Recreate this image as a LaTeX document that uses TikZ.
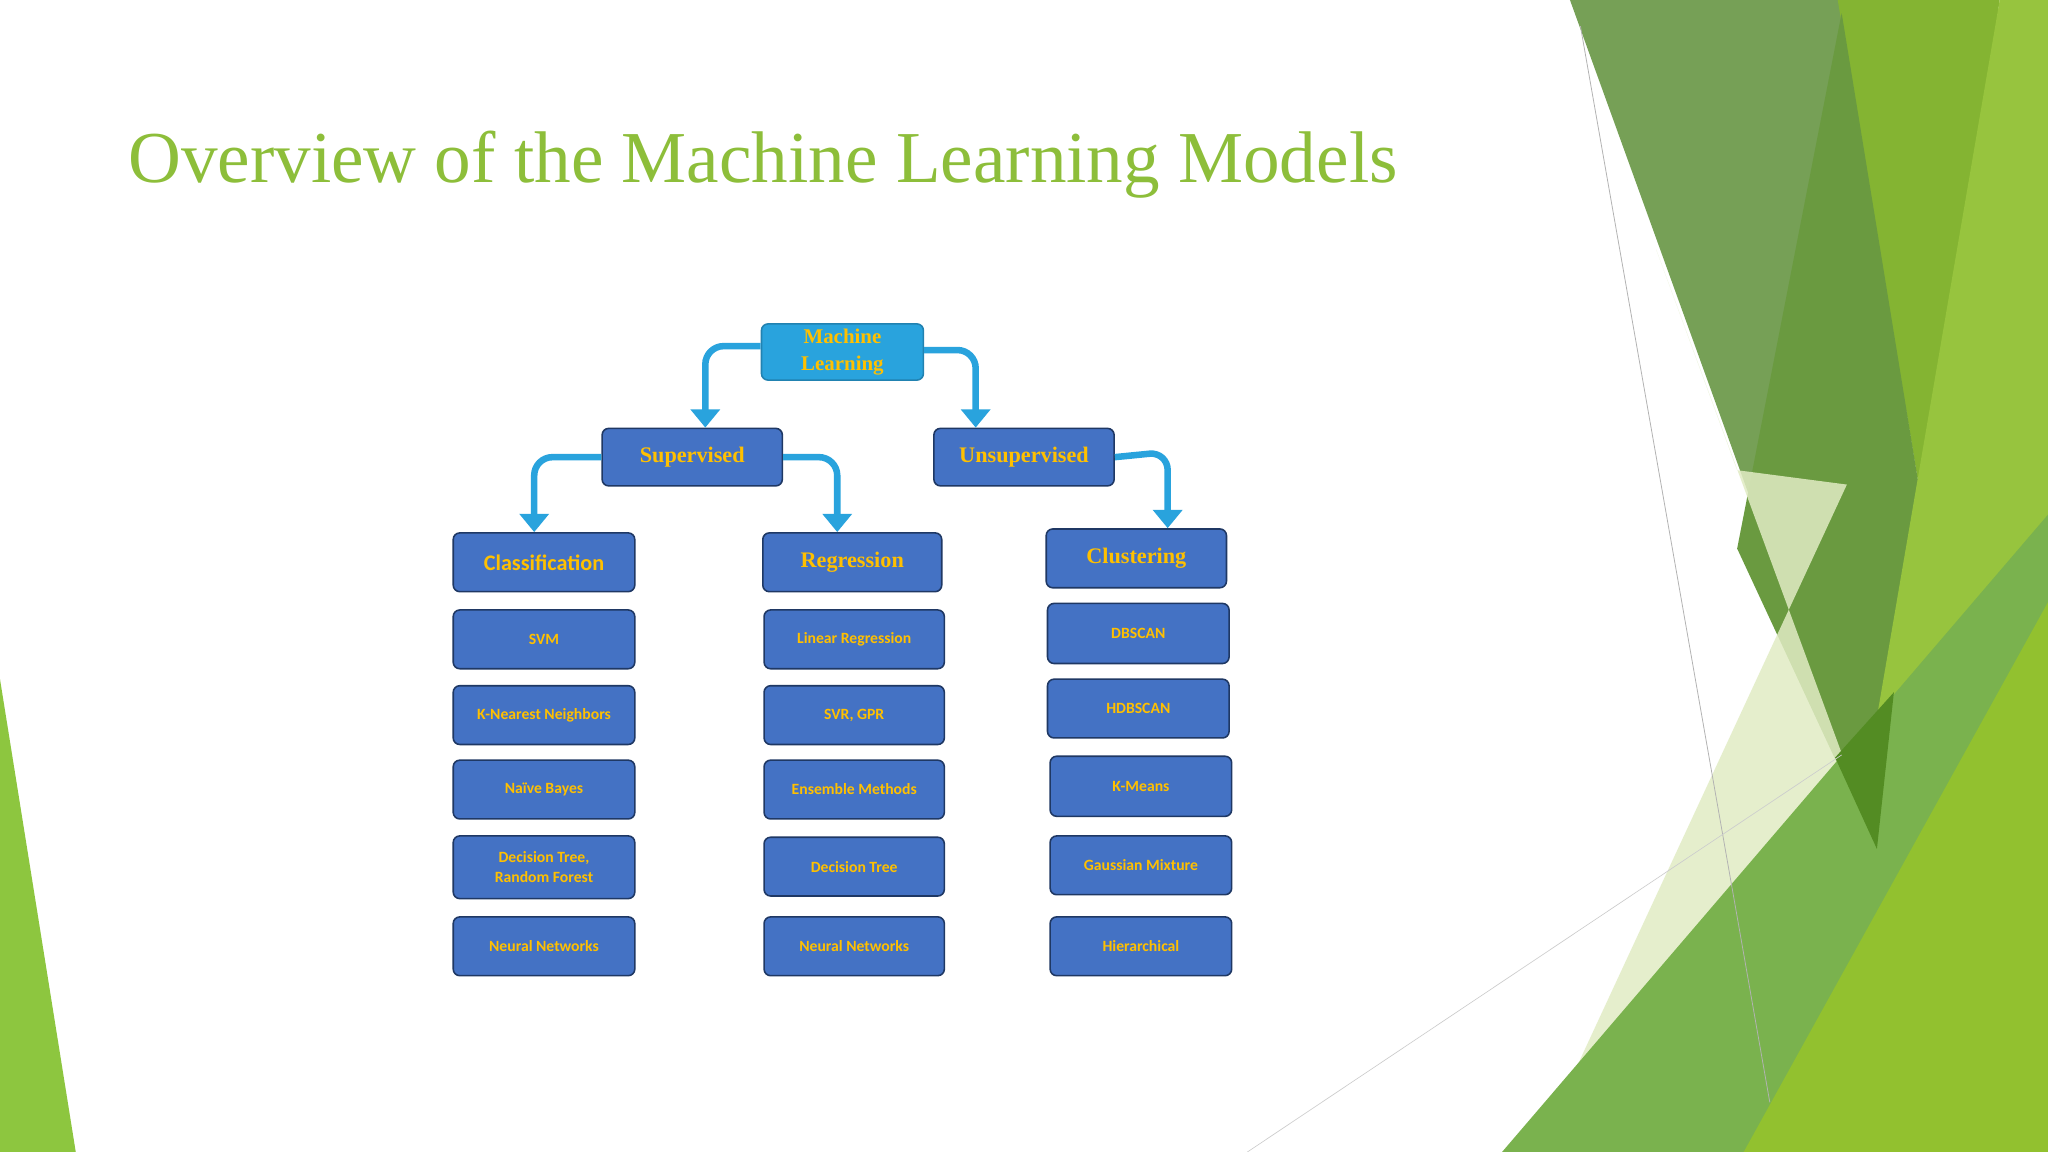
\documentclass[tikz,border=0pt]{standalone}
\usepackage{fontspec}
\setmainfont{Liberation Serif}
\newfontfamily\carl{Carlito}
\usetikzlibrary{arrows.meta}
\definecolor{boxblue}{HTML}{4472C4}
\definecolor{boxline}{HTML}{1F3864}
\definecolor{gold}{HTML}{FFC000}
\definecolor{arr}{HTML}{29A3DD}
\definecolor{titleg}{HTML}{8DBE3A}
\begin{document}
\begin{tikzpicture}[x=1pt,y=-1pt,
  bx/.style={draw=boxline,line width=1.2pt,fill=boxblue,rounded corners=5pt,text=gold,align=center,inner sep=1pt},
  hd/.style={bx,font=\fontsize{17}{18}\selectfont\bfseries},
  it/.style={bx,font=\carl\fontsize{12}{15}\selectfont\bfseries},
  ar/.style={draw=arr,line width=5pt,rounded corners=14pt,-{Triangle[width=22pt,length=14pt]}}]
\useasboundingbox (0,0) rectangle (1568,882);
\fill[white] (0,0) rectangle (1568,882);
% background facets
\fill[color={rgb,255:red,141;green,198;blue,63}] (0,520) -- (0,882) -- (58,882) -- cycle;
\fill[color={rgb,255:red,118;green,160;blue,86}] (1202,0) -- (1480,0) -- (1437,650) -- cycle;
\fill[color={rgb,255:red,132;green,180;blue,50}] (1407,0) -- (1531,0) -- (1474,402) -- cycle;
\fill[color={rgb,255:red,106;green,154;blue,64}] (1410,10) -- (1474,402) -- (1437,650) -- (1330,420) -- cycle;
\fill[color={rgb,255:red,151;green,196;blue,62}] (1531,0) -- (1568,0) -- (1568,882) -- (1380,882) -- cycle;
\fill[color={rgb,255:red,225;green,236;blue,196},opacity=0.85] (1268,191) -- (1437,650) -- (1360,700) -- (1195,843) -- (1414,371) -- (1330,360) -- cycle;
\fill[color={rgb,255:red,122;green,178;blue,78}] (1150,882) -- (1568,394) -- (1568,882) -- cycle;
\fill[color={rgb,255:red,83;green,140;blue,35}] (1405,580) -- (1450,530) -- (1437,650) -- cycle;
\fill[color={rgb,255:red,146;green,193;blue,47}] (1335,882) -- (1568,461) -- (1568,882) -- cycle;
\draw[gray!60,line width=0.6pt] (1210,20) -- (1355,844);
\draw[gray!40,line width=0.5pt] (955,882) -- (1410,578);
% title
\node[anchor=base west,text=titleg,font=\fontsize{56}{60}\selectfont,inner sep=0] (title) at (98,140) {Overview of the Machine Learning Models};
% nodes
\node[bx,fill=arr,draw=arr!80!black,minimum width=124pt,minimum height=43pt,font=\fontsize{16}{20}\selectfont\bfseries] (ml) at (645,269.5) {Machine\\Learning};
\node[hd,minimum width=138pt,minimum height=44pt] (sup) at (530,350) {Supervised};
\node[hd,minimum width=138pt,minimum height=44pt] (uns) at (784,350) {Unsupervised};
\node[hd,font=\carl\fontsize{17}{18}\selectfont\bfseries,minimum width=139pt,minimum height=45pt] (cla) at (416.5,430.5) {Classification};
\node[hd,minimum width=137pt,minimum height=45pt] (reg) at (652.5,430.5) {Regression};
\node[hd,minimum width=138pt,minimum height=45pt] (clu) at (870,427.5) {Clustering};
\tikzset{c1/.style={it,minimum width=139pt,minimum height=45pt},c2/.style={it,minimum width=138pt,minimum height=45pt}}
\node[c1] (a1) at (416.5,489.5) {SVM};
\node[c1] (a2) at (416.5,547.5) {K-Nearest Neighbors};
\node[c1] (a3) at (416.5,604.5) {Naïve Bayes};
\node[c1,minimum height=48pt] (a4) at (416.5,664) {Decision Tree,\\Random Forest};
\node[c1] (a5) at (416.5,724.5) {Neural Networks};
\node[c2] (b1) at (654,489.5) {Linear Regression};
\node[c2] (b2) at (654,547.5) {SVR, GPR};
\node[c2] (b3) at (654,604.5) {Ensemble Methods};
\node[c2] (b4) at (654,663.5) {Decision Tree};
\node[c2] (b5) at (654,724.5) {Neural Networks};
\node[c2,minimum width=139pt,minimum height=46pt] (d1) at (871.5,485) {DBSCAN};
\node[c2,minimum width=139pt] (d2) at (871.5,542.5) {HDBSCAN};
\node[c2,minimum width=139pt,minimum height=46pt] (d3) at (873.5,602) {K-Means};
\node[c2,minimum width=139pt] (d4) at (873.5,662.5) {Gaussian Mixture};
\node[c2,minimum width=139pt] (d5) at (873.5,724.5) {Hierarchical};
% arrows
\draw[ar] (ml.west|-0,265) -- (540,265) -- (sup.north-|540,0);
\draw[ar] (ml.east|-0,268) -- (747,268) -- (uns.north-|747,0);
\draw[ar] (sup.west) -- (409,350) -- (cla.north-|409,0);
\draw[ar] (sup.east) -- (641,350) -- (reg.north-|641,0);
\draw[ar] (uns.east) -- (894,346) -- (clu.north-|894,0);
\end{tikzpicture}
\end{document}
